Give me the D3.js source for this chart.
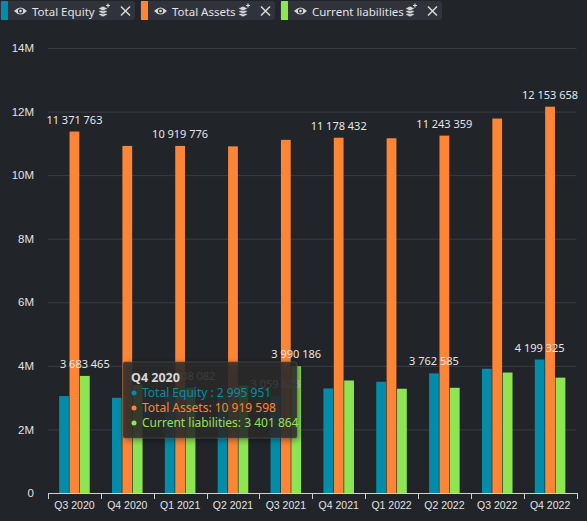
<!DOCTYPE html>
<html>
<head>
  <meta charset="utf-8">
  <title>Equity / Assets / Liabilities</title>
  <style>
    html, body { margin: 0; padding: 0; background: #212428; }
    svg { display: block; font-family: "Noto Sans", "Open Sans", sans-serif; }
  </style>
</head>
<body>
  <svg id="main" width="587" height="521"></svg>

  <script src="https://cdn.jsdelivr.net/npm/d3@7/dist/d3.min.js"></script>
  <script>
    // data
    const quarters = ['Q3 2020', 'Q4 2020', 'Q1 2021', 'Q2 2021', 'Q3 2021',
                      'Q4 2021', 'Q1 2022', 'Q2 2022', 'Q3 2022', 'Q4 2022']
    const seriesNames = ['Total Equity', 'Total Assets', 'Current liabilities']
    const totalEquity = [3050000, 2995951, 3090000, 3100000, 3059623,
                         3290000, 3500000, 3762585, 3910000, 4199325]
    const totalAssets = [11371763, 10919598, 10919776, 10905000, 11110000,
                         11178432, 11160000, 11243359, 11780000, 12153658]
    const currentLiab = [3683465, 3401864, 3308082, 3380000, 3990186,
                         3540000, 3280000, 3310000, 3790000, 3630000]
    const yTicks = [0, 2e6, 4e6, 6e6, 8e6, 10e6, 12e6, 14e6]
    // which value labels stay visible (series index, quarter index)
    const shownLabels = [[1, 0], [2, 0], [1, 2], [2, 2], [0, 4], [2, 4],
                         [1, 5], [1, 7], [0, 7], [1, 9], [0, 9]]
    const tooltipQuarter = 1

    const colors = ['#028ca9', '#fe8535', '#8ee552']
    const values = [totalEquity, totalAssets, currentLiab]

    const svg = d3.select('#main')
    const margin = { top: 48, right: 10.5, bottom: 28, left: 48 }
    const width = +svg.attr('width')
    const height = +svg.attr('height')

    const fmt = d3.formatLocale({ decimal: '.', thousands: ' ', grouping: [3], currency: ['', ''] }).format(',d')

    const x = d3.scaleBand()
      .domain(quarters)
      .range([margin.left, width - margin.right])

    const xSub = d3.scaleBand()
      .domain(d3.range(seriesNames.length))
      .range([0, x.bandwidth()])
      .paddingInner(0.06)
      .paddingOuter(1.07)

    const y = d3.scaleLinear()
      .domain([0, 14e6])
      .range([height - margin.bottom, margin.top])

    // grid
    svg.append('g')
      .selectAll('line')
      .data(yTicks.slice(1))
      .join('line')
      .attr('x1', margin.left)
      .attr('x2', width - margin.right)
      .attr('y1', d => y(d) + 0.5)
      .attr('y2', d => y(d) + 0.5)
      .attr('stroke', '#3a3d45')

    // y labels
    const yAxis = d3.axisLeft(y)
      .tickValues(yTicks)
      .tickSize(0)
      .tickPadding(14)
      .tickFormat(d => d === 0 ? '0' : (d / 1e6) + 'M')
    const gy = svg.append('g')
      .attr('transform', `translate(${margin.left},0)`)
      .call(yAxis)
    gy.select('.domain').remove()
    gy.selectAll('text')
      .attr('fill', '#e2e2e2')
      .attr('font-size', 11.5)

    // bars
    const groups = svg.append('g')
      .selectAll('g')
      .data(quarters)
      .join('g')
      .attr('transform', d => `translate(${x(d)},0)`)

    groups.selectAll('rect')
      .data((q, i) => values.map((arr, s) => ({ s, v: arr[i] })))
      .join('rect')
      .attr('x', d => xSub(d.s))
      .attr('width', xSub.bandwidth())
      .attr('y', d => y(d.v))
      .attr('height', d => y(0) - y(d.v))
      .attr('fill', d => colors[d.s])

    // x axis
    const xAxis = d3.axisBottom(x)
      .tickSize(0)
      .tickPadding(9)
    const gx = svg.append('g')
      .attr('transform', `translate(0,${y(0)})`)
      .call(xAxis)
    gx.select('.domain').attr('stroke', '#cfcfcf')
    gx.selectAll('text')
      .attr('fill', '#e2e2e2')
      .attr('font-size', 10.5)
    gx.append('g')
      .selectAll('line')
      .data(quarters.concat(['end']))
      .join('line')
      .attr('x1', (d, i) => Math.round(i < quarters.length ? x(d) : x.range()[1]) + 0.5)
      .attr('x2', (d, i) => Math.round(i < quarters.length ? x(d) : x.range()[1]) + 0.5)
      .attr('y1', 0)
      .attr('y2', 6)
      .attr('stroke', '#cfcfcf')

    // value labels
    svg.append('g')
      .selectAll('text')
      .data(shownLabels)
      .join('text')
      .attr('x', d => x(quarters[d[1]]) + xSub(d[0]) + xSub.bandwidth() / 2)
      .attr('y', d => y(values[d[0]][d[1]]) - 8)
      .attr('text-anchor', 'middle')
      .attr('font-size', 11)
      .attr('fill', '#e6e6e6')
      .text(d => fmt(values[d[0]][d[1]]))

    // legend chips
    const chips = [
      { x: 0, w: 135 },
      { x: 140, w: 135 },
      { x: 280, w: 162 }
    ]
    const legend = svg.append('g')
      .selectAll('g')
      .data(seriesNames)
      .join('g')
      .attr('transform', (d, i) => `translate(${chips[i].x},1)`)

    legend.append('rect')
      .attr('width', (d, i) => chips[i].w)
      .attr('height', 19)
      .attr('rx', 3)
      .attr('fill', '#30333b')
    legend.append('rect')
      .attr('x', 1)
      .attr('width', 7)
      .attr('height', 19)
      .attr('fill', (d, i) => colors[i])

    // eye
    const eye = legend.append('g').attr('transform', 'translate(20.5,10)')
    eye.append('path')
      .attr('d', 'M-6.5,0 Q0,-7 6.5,0 Q0,7 -6.5,0Z')
      .attr('fill', '#d8d8d8')
    eye.append('circle').attr('r', 2.6).attr('fill', '#30333b')
    eye.append('circle').attr('r', 1.3).attr('fill', '#d8d8d8')

    legend.append('text')
      .attr('x', 32)
      .attr('y', 14.5)
      .attr('font-size', 11.5)
      .attr('fill', '#e2e2e2')
      .text(d => d)

    // stacked layers icon + close cross at the chip's right end
    legend.each(function (d, i) {
      const g = d3.select(this)
      const lx = chips[i].w - 32
      const layers = g.append('g').attr('transform', `translate(${lx},10.5)`)
      ;[3, 0, -3].forEach(dy => {
        layers.append('path')
          .attr('d', `M-5,${dy} L0,${dy - 2.5} L5,${dy} L0,${dy + 2.5}Z`)
          .attr('fill', '#d8d8d8')
          .attr('stroke', '#30333b')
          .attr('stroke-width', 0.8)
      })
      layers.append('path')
        .attr('d', 'M3,-6 h4 M5,-8 v4')
        .attr('stroke', '#d8d8d8')
        .attr('stroke-width', 1.2)
      const cx = chips[i].w - 9.5
      g.append('path')
        .attr('d', `M${cx - 4.5},5.5 L${cx + 4.5},14.5 M${cx + 4.5},5.5 L${cx - 4.5},14.5`)
        .attr('stroke', '#d8d8d8')
        .attr('stroke-width', 1.5)
    })

    // tooltip for the hovered quarter
    const defs = svg.append('defs')
    const filter = defs.append('filter').attr('id', 'shadow')
      .attr('x', '-10%').attr('y', '-10%').attr('width', '130%').attr('height', '130%')
    filter.append('feDropShadow')
      .attr('dx', 2).attr('dy', 2).attr('stdDeviation', 3)
      .attr('flood-color', '#000').attr('flood-opacity', 0.45)

    const tip = svg.append('g').attr('transform', 'translate(123,362)')
    tip.append('rect')
      .attr('width', 174)
      .attr('height', 76)
      .attr('rx', 2)
      .attr('fill', 'rgba(40,41,43,0.84)')
      .attr('stroke', 'rgba(80,80,80,0.6)')
      .attr('filter', 'url(#shadow)')
    tip.append('text')
      .attr('x', 8)
      .attr('y', 20)
      .attr('font-size', 12.5)
      .attr('font-weight', 'bold')
      .attr('fill', '#d6d6d6')
      .text(quarters[tooltipQuarter])
    const tipRows = tip.selectAll('g.row')
      .data(seriesNames)
      .join('g')
      .attr('class', 'row')
      .attr('transform', (d, i) => `translate(0,${35 + i * 15})`)
    tipRows.append('circle')
      .attr('cx', 11)
      .attr('cy', -4)
      .attr('r', 2.5)
      .attr('fill', (d, i) => colors[i])
    tipRows.append('text')
      .attr('x', 19)
      .attr('font-size', 12)
      .attr('fill', (d, i) => colors[i])
      .text((d, i) => d + (i === 0 ? ' : ' : ': ') + fmt(values[i][tooltipQuarter]))
  </script>
</body>
</html>
